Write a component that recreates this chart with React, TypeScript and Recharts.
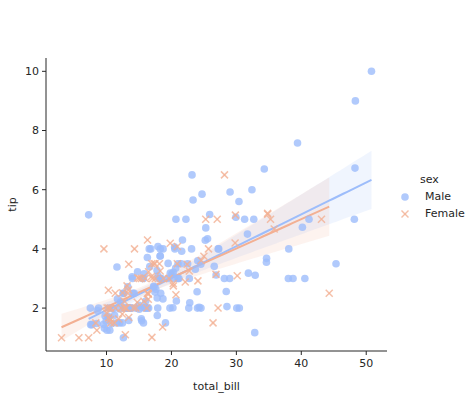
import {
  ComposedChart,
  Scatter,
  Line,
  Area,
  XAxis,
  YAxis,
  Legend,
} from "recharts";

// tips dataset, split by sex
const maleBill = [
  10.34, 21.01, 23.68, 25.29, 8.77, 26.88, 15.04, 14.78, 10.27, 15.42, 18.43, 21.58, 16.29, 20.65,
  17.92, 39.42, 19.82, 17.81, 13.37, 12.69, 21.7, 9.55, 18.35, 17.78, 24.06, 16.31, 18.69, 31.27,
  16.04, 17.46, 13.94, 9.68, 30.4, 18.29, 22.23, 32.4, 28.55, 18.04, 12.54, 9.94, 25.56, 19.49,
  38.01, 11.24, 48.27, 20.29, 13.81, 11.02, 18.29, 17.59, 20.08, 20.23, 15.01, 12.02, 10.51, 17.92,
  27.2, 22.76, 17.29, 19.44, 16.66, 32.68, 15.98, 13.03, 18.28, 24.71, 21.16, 28.97, 22.49, 40.17,
  27.28, 12.03, 21.01, 12.46, 15.36, 20.49, 25.21, 18.24, 14.0, 38.07, 23.95, 29.93, 11.69, 14.26,
  15.95, 8.52, 22.82, 19.08, 16.0, 34.3, 41.19, 9.78, 7.51, 14.07, 13.13, 17.26, 24.55, 19.77,
  48.17, 16.49, 21.5, 12.66, 13.81, 24.52, 20.76, 31.71, 50.81, 15.81, 7.25, 31.85, 16.82, 32.9,
  17.89, 14.48, 34.63, 34.65, 23.33, 45.35, 23.17, 40.55, 20.69, 30.46, 23.1, 15.69, 28.44, 15.48,
  16.58, 7.56, 10.34, 13.51, 18.71, 20.53, 26.59, 38.73, 24.27, 30.06, 25.89, 48.33, 28.15, 11.59,
  7.74, 12.16, 8.58, 13.42, 20.45, 13.28, 24.01, 15.69, 11.61, 10.77, 15.53, 10.07, 12.6, 32.83,
  29.03, 22.67, 17.82,
];
const maleTip = [
  1.66, 3.5, 3.31, 4.71, 2.0, 3.12, 1.96, 3.23, 1.71, 1.57, 3.0, 3.92, 3.71, 3.35,
  4.08, 7.58, 3.18, 2.34, 2.0, 2.0, 4.3, 1.45, 2.5, 3.27, 3.6, 2.0, 2.31, 5.0,
  2.24, 2.54, 3.06, 1.32, 5.6, 3.0, 5.0, 6.0, 2.05, 3.0, 2.5, 1.56, 4.34, 3.51,
  3.0, 1.76, 6.73, 3.21, 2.0, 1.98, 3.76, 2.64, 3.15, 2.01, 2.09, 1.97, 1.25, 3.08,
  4.0, 3.0, 2.71, 3.0, 3.4, 5.0, 2.03, 2.0, 4.0, 5.85, 3.0, 3.0, 3.5, 4.73,
  4.0, 1.5, 3.0, 1.5, 1.64, 4.06, 4.29, 3.76, 3.0, 4.0, 2.55, 5.07, 2.31, 2.5,
  2.0, 1.48, 2.18, 1.5, 2.0, 6.7, 5.0, 1.73, 2.0, 2.5, 2.0, 2.74, 2.0, 2.0,
  5.0, 2.0, 3.5, 2.5, 2.0, 3.48, 2.24, 4.5, 10.0, 3.16, 5.15, 3.18, 4.0, 3.11,
  2.0, 2.0, 3.55, 3.68, 5.65, 3.5, 6.5, 3.0, 5.0, 2.0, 4.0, 1.5, 2.56, 2.02,
  4.0, 1.44, 2.0, 2.0, 4.0, 4.0, 3.41, 3.0, 2.03, 2.0, 5.16, 9.0, 3.0, 1.5,
  1.44, 2.2, 1.92, 1.58, 3.0, 2.72, 2.0, 3.0, 3.39, 1.47, 3.0, 1.25, 1.0, 1.17,
  5.92, 2.0, 1.75,
];
const femaleBill = [
  16.99, 24.59, 35.26, 14.83, 10.33, 16.97, 20.29, 15.77, 19.65, 15.06, 20.69, 16.93, 10.29, 34.81,
  26.41, 16.45, 3.07, 17.07, 26.86, 25.28, 14.73, 10.07, 34.83, 5.75, 16.32, 22.75, 11.35, 15.38,
  44.3, 22.42, 20.92, 14.31, 7.25, 25.71, 17.31, 10.65, 12.43, 24.08, 13.42, 12.48, 29.8, 14.52,
  11.38, 20.27, 11.17, 12.26, 18.26, 8.51, 10.33, 14.15, 13.16, 17.47, 27.05, 16.43, 8.35, 18.64,
  11.87, 29.85, 25.0, 13.39, 16.21, 17.51, 10.59, 10.63, 9.6, 20.9, 18.15, 19.81, 43.11, 13.0,
  12.74, 13.0, 16.4, 16.47, 12.76, 13.27, 28.17, 12.9, 30.14, 13.42, 15.98, 16.27, 10.09, 22.12,
  35.83, 27.18, 18.78,
];
const femaleTip = [
  1.01, 3.61, 5.0, 3.02, 1.67, 3.5, 2.75, 2.23, 3.0, 3.0, 2.45, 3.07, 2.6, 5.2,
  1.5, 2.47, 1.0, 3.0, 3.14, 5.0, 2.2, 1.83, 5.17, 1.0, 4.3, 3.25, 2.5, 3.0,
  2.5, 3.48, 4.08, 4.0, 1.0, 4.0, 3.5, 1.5, 1.8, 2.92, 1.68, 2.52, 4.2, 2.0,
  2.0, 2.83, 1.5, 2.0, 3.25, 1.25, 2.0, 2.0, 2.75, 3.5, 5.0, 2.3, 1.5, 1.36,
  1.63, 5.14, 3.75, 2.61, 2.0, 3.0, 1.61, 2.0, 4.0, 3.5, 3.5, 4.19, 5.0, 2.0,
  2.01, 2.0, 2.5, 3.23, 2.23, 2.5, 6.5, 1.1, 3.09, 3.48, 3.0, 2.5, 2.0, 2.88,
  4.67, 2.0, 3.0,
];

const xTicks = [10, 20, 30, 40, 50];
const yTicks = [2, 4, 6, 8, 10];

const MALE = "#9dbdfb";
const FEMALE = "#f3b093";
const INK = "#262626";
const FONT = "DejaVu Sans, sans-serif";

// OLS fit with a 95% band (robust standard errors)
function fit(xs: number[], ys: number[]) {
  const n = xs.length;
  const mx = xs.reduce((a, b) => a + b, 0) / n;
  const my = ys.reduce((a, b) => a + b, 0) / n;
  let sxx = 0;
  let sxy = 0;
  xs.forEach((x, i) => {
    sxx += (x - mx) ** 2;
    sxy += (x - mx) * (ys[i] - my);
  });
  const b = sxy / sxx;
  const a = my - b * mx;
  // sandwich on centered x: var(a'), var(b), cov
  let m00 = 0;
  let m01 = 0;
  let m11 = 0;
  xs.forEach((x, i) => {
    const e2 = (ys[i] - a - b * x) ** 2;
    const d = x - mx;
    m00 += e2;
    m01 += e2 * d;
    m11 += e2 * d * d;
  });
  const vA = m00 / (n * n);
  const vB = m11 / (sxx * sxx);
  const cAB = m01 / (n * sxx);
  const lo = Math.min(...xs);
  const hi = Math.max(...xs);
  const pts = [];
  for (let k = 0; k <= 80; k++) {
    const x = lo + ((hi - lo) * k) / 80;
    const d = x - mx;
    const y = a + b * x;
    const se = Math.sqrt(vA + d * d * vB + 2 * d * cAB);
    pts.push({ bill: x, tip: y, band: [y - 1.97 * se, y + 1.97 * se] });
  }
  return pts;
}

const malePts = maleBill.map((b, i) => ({ bill: b, tip: maleTip[i] }));
const femalePts = femaleBill.map((b, i) => ({ bill: b, tip: femaleTip[i] }));
const maleFit = fit(maleBill, maleTip);
const femaleFit = fit(femaleBill, femaleTip);

const Dot = (p: any) => (
  <circle cx={p.cx} cy={p.cy} r={3.8} fill={MALE} fillOpacity={0.8} />
);
const Cross = (p: any) => (
  <g stroke={FEMALE} strokeOpacity={0.8} strokeWidth={1.5}>
    <line x1={p.cx - 3.5} y1={p.cy - 3.5} x2={p.cx + 3.5} y2={p.cy + 3.5} />
    <line x1={p.cx - 3.5} y1={p.cy + 3.5} x2={p.cx + 3.5} y2={p.cy - 3.5} />
  </g>
);

const LegendBox = () => (
  <div style={{ fontFamily: FONT, fontSize: 11, color: INK, lineHeight: "17px" }}>
    <div style={{ paddingLeft: 24 }}>sex</div>
    <div style={{ display: "flex", alignItems: "center" }}>
      <svg width={20} height={12}>
        <circle cx={9} cy={6} r={3.8} fill={MALE} fillOpacity={0.8} />
      </svg>
      <span style={{ marginLeft: 9 }}>Male</span>
    </div>
    <div style={{ display: "flex", alignItems: "center" }}>
      <svg width={20} height={12}>
        <g stroke={FEMALE} strokeOpacity={0.8} strokeWidth={1.5}>
          <line x1={5.5} y1={2.5} x2={12.5} y2={9.5} />
          <line x1={5.5} y1={9.5} x2={12.5} y2={2.5} />
        </g>
      </svg>
      <span style={{ marginLeft: 9 }}>Female</span>
    </div>
  </div>
);

export default function App() {
  const tick = { fill: INK, fontSize: 11, fontFamily: FONT };
  return (
    <div style={{ position: "fixed", left: 0, top: 0, background: "#fff" }}>
      <ComposedChart
        width={474}
        height={396}
        margin={{ top: 7, right: 87, bottom: 0, left: 0 }}
      >
        <XAxis
          dataKey="bill"
          type="number"
          domain={[0.68, 53.2]}
          ticks={xTicks}
          allowDataOverflow
          stroke={INK}
          tickSize={4}
          tickMargin={4}
          tick={tick}
          height={45}
          label={{
            value: "total_bill",
            position: "insideBottom",
            offset: 6,
            fill: INK,
            fontSize: 11,
            fontFamily: FONT,
          }}
        />
        <YAxis
          dataKey="tip"
          type="number"
          domain={[0.55, 10.45]}
          ticks={yTicks}
          allowDataOverflow
          stroke={INK}
          tickSize={4}
          tickMargin={3}
          tick={tick}
          width={46}
          label={{
            value: "tip",
            angle: -90,
            position: "center",
            dx: -11,
            fill: INK,
            fontSize: 11,
            fontFamily: FONT,
          }}
        />
        <Legend
          verticalAlign="top"
          align="right"
          wrapperStyle={{ left: 396, top: 171, width: 78 }}
          content={() => <LegendBox />}
        />
        <Scatter data={malePts} dataKey="tip" shape={Dot} isAnimationActive={false} />
        <Area
          data={maleFit}
          dataKey="band"
          type="linear"
          stroke="none"
          fill={MALE}
          fillOpacity={0.15}
          isAnimationActive={false}
        />
        <Scatter data={femalePts} dataKey="tip" shape={Cross} isAnimationActive={false} />
        <Area
          data={femaleFit}
          dataKey="band"
          type="linear"
          stroke="none"
          fill={FEMALE}
          fillOpacity={0.15}
          isAnimationActive={false}
        />
        <Line
          data={maleFit}
          dataKey="tip"
          type="linear"
          stroke={MALE}
          strokeWidth={2}
          dot={false}
          isAnimationActive={false}
        />
        <Line
          data={femaleFit}
          dataKey="tip"
          type="linear"
          stroke={FEMALE}
          strokeWidth={2}
          dot={false}
          isAnimationActive={false}
        />
      </ComposedChart>
    </div>
  );
}
